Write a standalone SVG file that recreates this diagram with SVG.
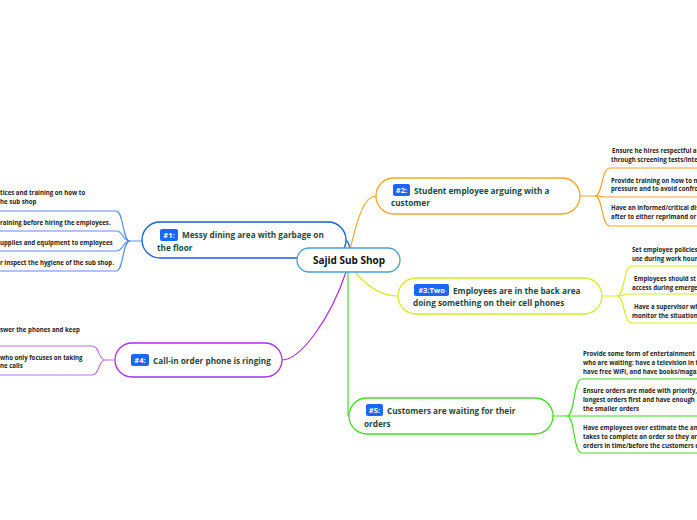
<svg xmlns="http://www.w3.org/2000/svg" width="697" height="520" viewBox="0 0 697 520">
<style>
text{font-family:"Open Sans","Noto Sans",sans-serif}
.t{font-size:8.2px;font-weight:bold;fill:#1d4a3c}
.l{font-size:6.1px;font-weight:bold;fill:#222}
.b{fill:#1a66ff}
.bt{font-size:7.5px;font-weight:bold;fill:#fff}
.n{fill:#fff;stroke-width:1.3}
.c{fill:none;stroke-width:1.2}
</style>
<rect width="697" height="520" fill="#fff"/>
<g id="connectors">
<path class="c" stroke="#1a5fd6" d="M346,262 C352,250 350,244 346,240"/>
<path class="c" stroke="#f5a623" d="M350,250 C358,215 365,196 376,196"/>
<path class="c" stroke="#d4ed26" d="M355,272 C370,290 385,296 398,296"/>
<path class="c" stroke="#a830ee" d="M346,272 C330,320 300,360 282,360"/>
<path class="c" stroke="#44dd22" d="M348,272 L348,416 L349,416"/>
<g stroke="#5d8ef0" class="c">
<path d="M142,241 L130,241 C122,241 124,211 116,211 L0,211"/>
<path d="M130,241 C122,241 124,231 116,231 L0,231"/>
<path d="M130,241 C122,241 124,251 116,251 L0,251"/>
<path d="M130,241 C122,241 124,271 116,271 L0,271"/>
</g>
<g stroke="#c070f0" class="c">
<path d="M115,360 L105,360 C98,360 100,346 92,346 L0,346"/>
<path d="M105,360 C98,360 100,375 92,375 L0,375"/>
</g>
<g stroke="#f5a623" class="c">
<path d="M580,196 L595,196 C603,196 601,168 610,168 L697,168"/>
<path d="M595,196 C603,196 601,197 610,197 L697,197"/>
<path d="M595,196 C603,196 601,226 610,226 L697,226"/>
</g>
<g stroke="#d4ed26" class="c">
<path d="M602,296 L617,296 C625,296 623,266 632,266 L697,266"/>
<path d="M617,296 C625,296 623,294 632,294 L697,294"/>
<path d="M617,296 C625,296 623,323 632,323 L697,323"/>
</g>
<g stroke="#44dd22" class="c">
<path d="M553,416 L567,416 C575,416 573,379 582,379 L697,379"/>
<path d="M567,416 L697,416"/>
<path d="M567,416 C575,416 573,453 582,453 L697,453"/>
</g>
</g>
<g id="n1"><rect class="n" stroke="#1a5fd6" x="142" y="222" width="204" height="36" rx="18"/><rect class="b" x="160" y="229" width="18" height="12" rx="2"/><text class="bt" x="169" y="238" text-anchor="middle">#1:</text><text class="t" x="182" y="238">Messy dining area with garbage on</text><text class="t" x="157" y="251">the floor</text></g>
<g id="n1l"><text class="l" x="0" y="195">tices and training on how to</text><text class="l" x="0" y="204">he sub shop</text><text class="l" x="0" y="225">raining before hiring the employees.</text><text class="l" x="0" y="245">upplies and equipment to employees</text><text class="l" x="0" y="265">r inspect the hygiene of the sub shop.</text></g>
<g id="n4"><rect class="n" stroke="#a830ee" x="115" y="343" width="167" height="34" rx="17"/><rect class="b" x="131" y="354" width="18" height="12" rx="2"/><text class="bt" x="140" y="363" text-anchor="middle">#4:</text><text class="t" x="153" y="364">Call-in order phone is ringing</text></g>
<g id="n4l"><text class="l" x="0" y="332">swer the phones and keep</text><text class="l" x="0" y="360">who only focuses on taking</text><text class="l" x="0" y="368">ne calls</text></g>
<g id="n2"><rect class="n" stroke="#f5a623" x="376" y="178" width="204" height="36" rx="18"/><rect class="b" x="393" y="184" width="17" height="12" rx="2"/><text class="bt" x="401.5" y="193" text-anchor="middle">#2:</text><text class="t" x="414" y="194">Student employee arguing with a</text><text class="t" x="391" y="206">customer</text></g>
<g id="n2l"><text class="l" x="612" y="153"> Ensure he hires respectful ar</text><text class="l" x="611" y="162">through screening tests/inte</text><text class="l" x="611" y="183">Provide training on how to m</text><text class="l" x="611" y="191">pressure and to avoid confro</text><text class="l" x="611" y="210">Have an informed/critical dis</text><text class="l" x="611" y="219">after to either reprimand or e</text></g>
<g id="n3"><rect class="n" stroke="#d4ed26" x="398" y="278" width="204" height="36" rx="18"/><rect class="b" x="414" y="284" width="35" height="12" rx="2"/><text class="bt" x="431.5" y="293" text-anchor="middle">#3:Two</text><text class="t" x="453" y="294">Employees are in the back area</text><text class="t" x="413" y="306">doing something on their cell phones</text></g>
<g id="n3l"><text class="l" x="632" y="252">Set employee policies</text><text class="l" x="632" y="261">use during work hour</text><text class="l" x="634" y="281">Employees should st</text><text class="l" x="632" y="290">access during emerge</text><text class="l" x="634" y="309">Have a supervisor wh</text><text class="l" x="632" y="318">monitor the situation</text></g>
<g id="n5"><rect class="n" stroke="#44dd22" x="349" y="398" width="204" height="36" rx="18"/><rect class="b" x="366" y="404" width="17" height="12" rx="2"/><text class="bt" x="374.5" y="413" text-anchor="middle">#5:</text><text class="t" x="387" y="414">Customers are waiting for their</text><text class="t" x="364" y="427">orders</text></g>
<g id="n5l"><text class="l" x="583" y="356">Provide some form of entertainment</text><text class="l" x="583" y="365">who are waiting: have a television in t</text><text class="l" x="583" y="374">have free WiFi, and have books/magaz</text><text class="l" x="583" y="393">Ensure orders are made with priority,</text><text class="l" x="583" y="402">longest orders first and have enough</text><text class="l" x="583" y="411">the smaller orders</text><text class="l" x="583" y="430">Have employees over estimate the am</text><text class="l" x="583" y="439">takes to complete an order so they ar</text><text class="l" x="583" y="448">orders in time/before the customers e</text></g>
<g id="center"><rect class="n" stroke="#4a9fd8" x="297" y="248" width="103" height="24" rx="12"/><text x="349" y="264" text-anchor="middle" font-size="10" font-weight="bold" fill="#111">Sajid Sub Shop</text></g>
</svg>
